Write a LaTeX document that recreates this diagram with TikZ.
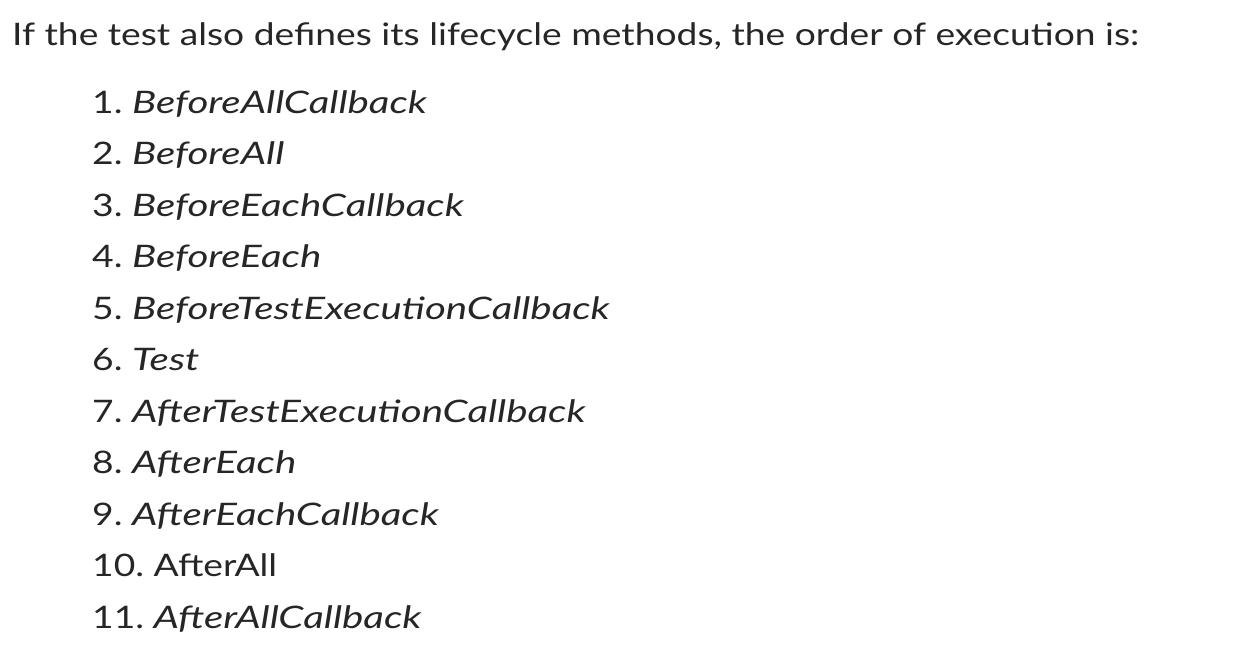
\documentclass[tikz,border=0pt]{standalone}
\usepackage{fontspec}
\setmainfont{Lato}[FakeStretch=1.2,ItalicFeatures={FakeStretch=1.3}]
\begin{document}
\begin{tikzpicture}[x=1pt,y=-1pt,
  txt/.style={anchor=base west,inner sep=0pt,font=\fontsize{31}{36}\selectfont,text=black!85},
  num/.style={anchor=base west,inner sep=0pt,font=\fontsize{31}{36}\selectfont,text=black!85}]
\useasboundingbox (0,0) rectangle (1244,664);
\node[txt] (h) at (12,45) {If the test also defines its lifecycle methods, the order of execution is:};
\foreach \n/\t/\i in {1/BeforeAllCallback/1,2/BeforeAll/1,3/BeforeEachCallback/1,4/BeforeEach/1,5/BeforeTestExecutionCallback/1,6/Test/1,7/AfterTestExecutionCallback/1,8/AfterEach/1,9/AfterEachCallback/1,10/AfterAll/0,11/AfterAllCallback/1}{
  \node[num] (n\n) at (92,{113+(\n-1)*51.5}) {\n.\ \ifnum\i=1 \itshape\fi\t};
}
\end{tikzpicture}
\end{document}
